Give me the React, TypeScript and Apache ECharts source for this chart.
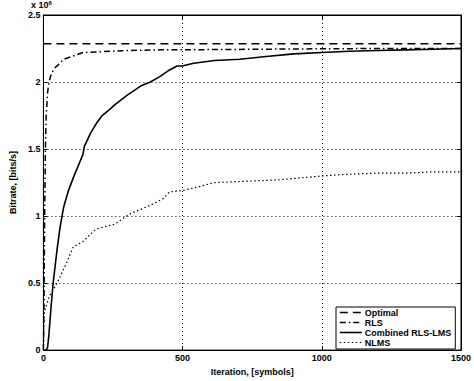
import React, { useEffect, useRef } from "react";
import * as echarts from "echarts";

const optimalIter = [0, 1500];
const optimalVal = [2.285, 2.285];

const rlsIter = [0, 2, 4, 7, 10, 15, 20, 27, 38, 49, 73, 100, 142, 200, 245, 300, 418, 500, 600, 800, 1000, 1200, 1500];
const rlsVal = [0, 0.3, 0.9, 1.48, 1.75, 1.92, 2.0, 2.05, 2.1, 2.12, 2.17, 2.19, 2.22, 2.225, 2.23, 2.235, 2.24, 2.24, 2.242, 2.245, 2.248, 2.25, 2.25];

const combIter = [0, 10, 15, 20, 27, 35, 49, 60, 73, 90, 110, 130, 142, 147, 170, 190, 211, 235, 256, 300, 349, 384, 418, 453, 480, 498, 540, 615, 705, 800, 900, 1000, 1100, 1200, 1300, 1400, 1500];
const combVal = [0, 0, 0.02, 0.12, 0.31, 0.5, 0.75, 0.92, 1.07, 1.19, 1.3, 1.4, 1.46, 1.52, 1.62, 1.69, 1.75, 1.79, 1.83, 1.9, 1.97, 2.0, 2.04, 2.09, 2.12, 2.12, 2.14, 2.16, 2.17, 2.19, 2.21, 2.22, 2.23, 2.235, 2.24, 2.245, 2.25];

const nlmsIter = [0, 3, 10, 21, 35, 49, 65, 83, 107, 142, 187, 220, 256, 314, 350, 394, 430, 453, 498, 560, 615, 729, 843, 1006, 1075, 1200, 1300, 1400, 1500];
const nlmsVal = [0, 0.28, 0.33, 0.4, 0.45, 0.5, 0.57, 0.65, 0.77, 0.81, 0.9, 0.92, 0.94, 1.02, 1.05, 1.09, 1.13, 1.18, 1.19, 1.22, 1.25, 1.26, 1.27, 1.3, 1.31, 1.32, 1.32, 1.33, 1.33];

const seriesNames = ["Optimal", "RLS", "Combined RLS-LMS", "NLMS"];
const xTicks = { min: 0, max: 1500, interval: 500 };
const yTicks = { min: 0, max: 2.5, interval: 0.5 };

const zip = (xs: number[], ys: number[]) => xs.map((x, i) => [x, ys[i]]);

const FONT = "Liberation Sans, Arial, sans-serif";

const styles = [
  { width: 1.5, type: [8, 5] as any },
  { width: 1.5, type: [6, 3, 1.5, 3] as any },
  { width: 1.6, type: "solid" as any },
  { width: 1.2, type: [1.5, 2.5] as any },
];

export default function App() {
  const ref = useRef<HTMLDivElement>(null);
  useEffect(() => {
    if (!ref.current) return;
    const chart = echarts.init(ref.current, null, { renderer: "svg" });
    const axisCommon = {
      axisLine: { show: true, onZero: false, lineStyle: { color: "#000", width: 1 } },
      axisTick: { show: true, inside: true, length: 4, lineStyle: { color: "#000" } },
      splitLine: { show: false },
    };
    const datasets = [
      zip(optimalIter, optimalVal),
      zip(rlsIter, rlsVal),
      zip(combIter, combVal),
      zip(nlmsIter, nlmsVal),
    ];
    chart.setOption({
      animation: false,
      backgroundColor: "#fff",
      textStyle: { fontFamily: FONT },
      graphic: [
        {
          type: "text",
          left: 31,
          top: 0,
          style: {
            text: "{a|x 10}{b|6}",
            rich: {
              a: { fontSize: 9, fontWeight: "bold", fill: "#000", fontFamily: FONT, lineHeight: 10 },
              b: { fontSize: 6, fontWeight: "bold", fill: "#000", fontFamily: FONT, verticalAlign: "top", lineHeight: 10 },
            },
          },
        },
      ],
      grid: { left: 29, right: 11, top: 15, bottom: 26, show: true, borderColor: "#000", borderWidth: 1 },
      legend: {
        orient: "vertical",
        left: 336,
        top: 307,
        data: seriesNames.map((n, i) => ({
          name: n,
          itemStyle: { opacity: 0 },
          lineStyle: { color: "#000", width: styles[i].width, type: styles[i].type },
        })),
        itemWidth: 22,
        itemHeight: 8,
        itemGap: 1,
        padding: [1, 4, 2, 3],
        borderColor: "#000",
        borderWidth: 1,
        backgroundColor: "#fff",
        textStyle: { fontSize: 9, fontWeight: "bold", color: "#000", fontFamily: FONT, padding: [0, 0, 0, -2] },
      },
      xAxis: [
        {
          type: "value",
          ...xTicks,
          ...axisCommon,
          name: "Iteration, [symbols]",
          nameLocation: "middle",
          nameGap: 13,
          nameTextStyle: { fontSize: 9, fontWeight: "bold", color: "#000", fontFamily: FONT },
          axisLabel: { margin: 3, fontSize: 9, fontWeight: "bold", color: "#000", fontFamily: FONT, formatter: (v: number) => String(v) },
          splitLine: { show: true, lineStyle: { color: "#000", type: [1, 3], width: 1 } },
        },
        { type: "value", position: "top", ...xTicks, ...axisCommon, axisLabel: { show: false } },
      ],
      yAxis: [
        {
          type: "value",
          ...yTicks,
          ...axisCommon,
          name: "Bitrate, [bits/s]",
          nameLocation: "middle",
          nameGap: 16,
          nameTextStyle: { fontSize: 9, fontWeight: "bold", color: "#000", fontFamily: FONT },
          axisLabel: { margin: 3, fontSize: 9, fontWeight: "bold", color: "#000", fontFamily: FONT, formatter: (v: number) => String(v) },
          splitLine: { show: true, lineStyle: { color: "#000", type: [1, 3], width: 1 } },
        },
        { type: "value", position: "right", ...yTicks, ...axisCommon, axisLabel: { show: false } },
      ],
      series: seriesNames.map((n, i) => ({
        name: n,
        type: "line",
        data: datasets[i],
        symbol: "none",
        lineStyle: { color: "#000", width: styles[i].width, type: styles[i].type },
        itemStyle: { color: "#000" },
      })),
    });
    return () => chart.dispose();
  }, []);
  return <div ref={ref} style={{ width: 474, height: 381, position: "absolute", left: 0, top: 0 }} />;
}
